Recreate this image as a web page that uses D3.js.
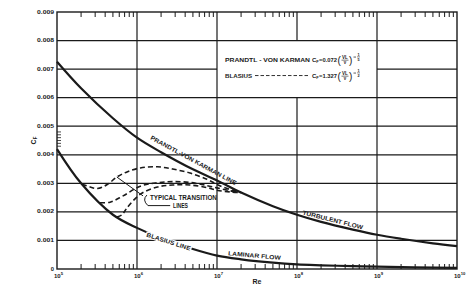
<!DOCTYPE html>
<html>
<head>
<meta charset="utf-8">
<script src="https://cdn.jsdelivr.net/npm/d3@7"></script>
<style>
  body { margin: 0; background: #fff; }
  text { font-family: 'Liberation Sans', Arial, sans-serif; fill: #1a1a1a; font-weight: bold; }
</style>
</head>
<body>
<div id="chart"></div>
<script>
// Axis values
const decades = [1e5, 1e6, 1e7, 1e8, 1e9, 1e10];
const decadeExp = ['5', '6', '7', '8', '9', '10'];
const cfTicks = [0, 0.001, 0.002, 0.003, 0.004, 0.005, 0.006, 0.007, 0.008, 0.009];
const cfTickLabels = ['0', '0.001', '0.002', '0.003', '0.004', '0.005', '0.006', '0.007', '0.008', '0.009'];
const leftMinorTicks = [0.0043, 0.0044, 0.0045, 0.0046, 0.0047, 0.0048];

// Prandtl - von Karman line (turbulent)
const karmanRe = [1e5, 2e5, 5e5, 1e6, 2e6, 5e6, 1e7, 2e7, 5e7, 1e8, 2e8, 5e8, 1e9, 2e9, 5e9, 1e10];
const karmanCf = [0.00726, 0.00633, 0.00528, 0.0046, 0.00409, 0.00349, 0.0031, 0.00268, 0.0022, 0.0019, 0.00165, 0.00138, 0.0012, 0.00106, 0.0009, 0.0008];

// Blasius line (laminar)
const blasiusRe = [1e5, 2e5, 5e5, 1e6, 2e6, 5e6, 1e7, 2e7, 5e7, 1e8, 2e8, 5e8, 1e9, 1e10];
const blasiusCf = [0.0042, 0.003, 0.0019, 0.00144, 0.00108, 0.0007, 0.00047, 0.00034, 0.00022, 0.00016, 0.00013, 0.0001, 0.00008, 0.00004];

// Typical transition lines (dashed)
const trans1Re = [2.05e5, 2.6e5, 3.2e5, 4.2e5, 5.6e5, 7.5e5, 1.1e6, 1.8e6, 2.8e6, 4.6e6, 7.5e6, 1e7, 1.4e7, 2e7];
const trans1Cf = [0.00298, 0.00287, 0.00282, 0.00295, 0.00322, 0.0034, 0.00354, 0.00358, 0.0035, 0.00336, 0.00314, 0.00296, 0.0028, 0.00268];
const trans2Re = [3.45e5, 4.6e5, 6.7e5, 1.1e6, 1.8e6, 2.8e6, 4.6e6, 7.5e6, 1e7, 1.45e7, 2e7];
const trans2Cf = [0.00232, 0.00234, 0.00256, 0.0029, 0.00302, 0.00306, 0.00303, 0.00292, 0.00284, 0.00274, 0.00268];
const trans3Re = [5.6e5, 6.5e5, 7.5e5, 1.1e6, 1.8e6, 2.8e6, 4.6e6, 7.5e6, 1e7, 1.45e7, 2e7];
const trans3Cf = [0.00182, 0.0019, 0.00214, 0.00262, 0.00287, 0.00294, 0.00294, 0.00285, 0.00276, 0.0027, 0.00268];

let width = 474, height = 285;
let margin = { top: 12, bottom: 16, left: 57, right: 17 };

let svg = d3.select('#chart')
            .append('svg')
            .attr('width', width)
            .attr('height', height)
            .style('background', '#fff');

// Scales
let xscale = d3.scaleLog()
               .domain([1e5, 1e10])
               .range([margin.left, width - margin.right]);
let yscale = d3.scaleLinear()
               .domain([0, 0.009])
               .range([height - margin.bottom, margin.top]);

const ink = '#1a1a1a';

// Grid lines; the legend box cuts the 0.007 line and the 10^8 line
const boxRe = [1e7, 1e9], boxCf = [0.006, 0.008];
cfTicks.slice(1, -1).forEach(function(c) {
    let segs = (c > boxCf[0] && c < boxCf[1]) ? [[1e5, boxRe[0]], [boxRe[1], 1e10]] : [[1e5, 1e10]];
    segs.forEach(s => svg.append('line')
        .attr('x1', xscale(s[0])).attr('x2', xscale(s[1]))
        .attr('y1', yscale(c)).attr('y2', yscale(c))
        .attr('stroke', ink).attr('stroke-width', 1.2));
});
decades.slice(1, -1).forEach(function(r) {
    let segs = (r > boxRe[0] && r < boxRe[1]) ? [[0, boxCf[0]], [boxCf[1], 0.009]] : [[0, 0.009]];
    segs.forEach(s => svg.append('line')
        .attr('x1', xscale(r)).attr('x2', xscale(r))
        .attr('y1', yscale(s[0])).attr('y2', yscale(s[1]))
        .attr('stroke', ink).attr('stroke-width', 1.2));
});

// Frame
svg.append('rect')
   .attr('x', xscale(1e5)).attr('y', yscale(0.009))
   .attr('width', xscale(1e10) - xscale(1e5))
   .attr('height', yscale(0) - yscale(0.009))
   .attr('fill', 'none').attr('stroke', ink).attr('stroke-width', 1.4);

// Minor log ticks on top and bottom edges
let minor = [];
decades.slice(0, -1).forEach(d => d3.range(2, 10).forEach(k => minor.push(k * d)));
minor.forEach(function(r) {
    svg.append('line')
       .attr('x1', xscale(r)).attr('x2', xscale(r))
       .attr('y1', yscale(0.009)).attr('y2', yscale(0.009) + 5)
       .attr('stroke', ink).attr('stroke-width', 1);
    svg.append('line')
       .attr('x1', xscale(r)).attr('x2', xscale(r))
       .attr('y1', yscale(0)).attr('y2', yscale(0) - 5)
       .attr('stroke', ink).attr('stroke-width', 1);
});
leftMinorTicks.forEach(c => svg.append('line')
    .attr('x1', xscale(1e5)).attr('x2', xscale(1e5) + 4)
    .attr('y1', yscale(c)).attr('y2', yscale(c))
    .attr('stroke', ink).attr('stroke-width', 0.8));

// Y tick labels
cfTicks.forEach(function(c, i) {
    svg.append('text')
       .attr('x', xscale(1e5) - 3)
       .attr('y', yscale(c) + 1.5)
       .attr('text-anchor', 'end')
       .style('font-size', '5.8px')
       .attr('textLength', i == 0 ? null : 17)
       .attr('lengthAdjust', 'spacingAndGlyphs')
       .text(cfTickLabels[i]);
});

// X tick labels (10 with exponent)
decades.forEach(function(r, i) {
    let t = svg.append('text')
               .attr('x', xscale(r) - 3)
               .attr('y', height - margin.bottom + 9)
               .style('font-size', '6px');
    t.append('tspan').text('10');
    t.append('tspan').attr('dy', -3).style('font-size', '4.2px').text(decadeExp[i]);
});

// Axis titles
svg.append('text')
   .attr('x', xscale(10 ** 7.5))
   .attr('y', height - 0.6)
   .attr('text-anchor', 'middle')
   .style('font-size', '7px')
   .text('Re');

let ylab = svg.append('text')
   .attr('transform', `translate(35.5, ${yscale(0.0045)}) rotate(-90)`)
   .attr('text-anchor', 'middle')
   .style('font-size', '7px');
ylab.append('tspan').text('C');
ylab.append('tspan').attr('dy', 1.5).style('font-size', '4.5px').text('F');

// Curves
let line = d3.line()
             .x(d => xscale(d[0]))
             .y(d => yscale(d[1]))
             .curve(d3.curveCatmullRom.alpha(0.5));
const zip = (a, b) => a.map((v, i) => [v, b[i]]);

[[trans1Re, trans1Cf], [trans2Re, trans2Cf], [trans3Re, trans3Cf]].forEach(function(s) {
    svg.append('path')
       .datum(zip(s[0], s[1]))
       .attr('d', line)
       .attr('fill', 'none')
       .attr('stroke', ink)
       .attr('stroke-width', 1.6)
       .attr('stroke-dasharray', '5,3');
});

svg.append('path')
   .datum(zip(karmanRe, karmanCf))
   .attr('d', line)
   .attr('fill', 'none')
   .attr('stroke', ink)
   .attr('stroke-width', 2.2);

svg.append('path')
   .datum(zip(blasiusRe, blasiusCf))
   .attr('d', line)
   .attr('fill', 'none')
   .attr('stroke', ink)
   .attr('stroke-width', 2.2);

// Curve labels
function curveLabel(re, cf, angle, len, label, size, knockout) {
    let g = svg.append('g')
               .attr('transform', `translate(${xscale(re)}, ${yscale(cf)}) rotate(${angle})`);
    if (knockout) {
        g.append('rect').attr('x', -1).attr('y', -size * 0.85).attr('width', len + 2)
         .attr('height', size * 1.05).attr('fill', '#fff');
    }
    g.append('text')
     .style('font-size', size + 'px')
     .attr('textLength', len)
     .attr('lengthAdjust', 'spacingAndGlyphs')
     .text(label);
}
curveLabel(1.45e6, 0.00455, 28.5, 97, 'PRANDTL-VON KARMAN LINE', 6, false);
curveLabel(1.16e8, 0.00191, 14, 62, 'TURBULENT FLOW', 6, false);
curveLabel(1.3e6, 0.00114, 18, 46, 'BLASIUS LINE', 6, true);
curveLabel(1.37e7, 0.00048, 5, 53, 'LAMINAR FLOW', 6, false);

// Transition lines label and leader
svg.append('text')
   .attr('x', xscale(1.45e6)).attr('y', yscale(0.00242))
   .style('font-size', '6.5px')
   .attr('textLength', 67).attr('lengthAdjust', 'spacingAndGlyphs')
   .text('TYPICAL TRANSITION');
svg.append('text')
   .attr('x', xscale(2.82e6)).attr('y', yscale(0.00214))
   .style('font-size', '6.5px')
   .attr('textLength', 15).attr('lengthAdjust', 'spacingAndGlyphs')
   .text('LINES');
svg.append('line')
   .attr('x1', xscale(5.6e5)).attr('y1', yscale(0.00322))
   .attr('x2', xscale(1.19e6)).attr('y2', yscale(0.00256))
   .attr('stroke', ink).attr('stroke-width', 1);
svg.append('path')
   .attr('d', `M${xscale(1.33e6)},${yscale(0.00259)} Q${xscale(1.15e6)},${yscale(0.00242)} ${xscale(1.37e6)},${yscale(0.00222)} L${xscale(2.6e6)},${yscale(0.00222)}`)
   .attr('fill', 'none').attr('stroke', ink).attr('stroke-width', 1);

// Formula legend inside the box
const legendRows = [
    { name: 'PRANDTL - VON KARMAN', coef: '=0.072', exp: '5', nameLen: 85 },
    { name: 'BLASIUS', coef: '=1.327', exp: '2', nameLen: 27 }
];
legendRows.forEach(function(d, i) {
    let b = yscale(0.008) + 21 + i * 16;
    let x0 = xscale(1e7) + 8;
    svg.append('text').attr('x', x0).attr('y', b).style('font-size', '5.5px')
       .attr('textLength', d.nameLen).attr('lengthAdjust', 'spacingAndGlyphs').text(d.name);
    if (i == 1) {
        svg.append('line').attr('x1', x0 + 30).attr('x2', x0 + 85)
           .attr('y1', b - 2).attr('y2', b - 2)
           .attr('stroke', ink).attr('stroke-width', 0.9).attr('stroke-dasharray', '3.5,2');
    }
    let fx = x0 + 87;
    let c = svg.append('text').attr('x', fx).attr('y', b).style('font-size', '6px');
    c.append('tspan').text('C');
    c.append('tspan').attr('dy', 1.5).style('font-size', '4px').text('F');
    svg.append('text').attr('x', fx + 7).attr('y', b).style('font-size', '5.5px')
       .attr('textLength', 18).attr('lengthAdjust', 'spacingAndGlyphs').text(d.coef);
    svg.append('text').attr('x', fx + 25.5).attr('y', b + 2.2).style('font-size', '10px').style('font-weight', 'normal').text('(');
    svg.append('text').attr('x', fx + 33).attr('y', b - 2.2).attr('text-anchor', 'middle').style('font-size', '4.5px').text('VL');
    svg.append('line').attr('x1', fx + 29.5).attr('x2', fx + 36.5).attr('y1', b - 1.4).attr('y2', b - 1.4)
       .attr('stroke', ink).attr('stroke-width', 0.6);
    svg.append('text').attr('x', fx + 33).attr('y', b + 2.8).attr('text-anchor', 'middle').style('font-size', '4.5px').text('\u03BD');
    svg.append('text').attr('x', fx + 37).attr('y', b + 2.2).style('font-size', '10px').style('font-weight', 'normal').text(')');
    svg.append('line').attr('x1', fx + 41.5).attr('x2', fx + 44).attr('y1', b - 4.5).attr('y2', b - 4.5)
       .attr('stroke', ink).attr('stroke-width', 0.7);
    svg.append('text').attr('x', fx + 46.5).attr('y', b - 5.5).attr('text-anchor', 'middle').style('font-size', '3.8px').text('1');
    svg.append('line').attr('x1', fx + 45).attr('x2', fx + 48).attr('y1', b - 4.7).attr('y2', b - 4.7)
       .attr('stroke', ink).attr('stroke-width', 0.5);
    svg.append('text').attr('x', fx + 46.5).attr('y', b - 1).attr('text-anchor', 'middle').style('font-size', '3.8px').text(d.exp);
});
</script>
</body>
</html>
